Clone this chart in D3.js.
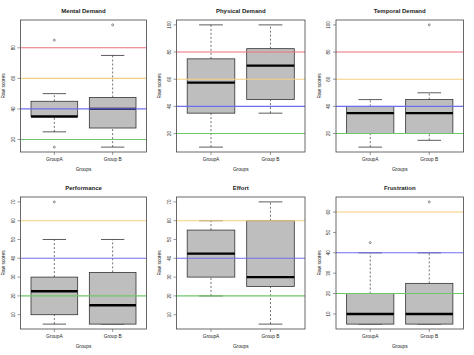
<!DOCTYPE html>
<html><head><meta charset="utf-8">
<script src="https://cdn.jsdelivr.net/npm/d3@7/dist/d3.min.js"></script>
<style>body{margin:0;background:#fff}svg{display:block}text{font-family:"Liberation Sans",Arial,sans-serif;fill:#222}</style>
</head><body>
<svg id="c" width="474" height="355"></svg>
<script>
// Data: five-number summaries [lower whisker, Q1, median, Q3, upper whisker]
const titles = ["Mental Demand","Physical Demand","Temporal Demand","Performance","Effort","Frustration"];
const groups = ["GroupA","Group B"];
const groupA = [[25,35,35,45,50],[10,35,57.5,75,100],[10,20,35,40,45],[5,10,22.5,30,50],[20,30,42.5,55,60],[5,5,10,20,40]];
const groupB = [[15,27.5,40,47.5,75],[35,45,70,82.5,100],[15,20,35,45,50],[5,5,15,32.5,50],[5,25,30,60,70],[5,5,10,25,40]];
const outA = [[85,15],[],[],[70],[],[45]];
const outB = [[95],[],[100],[],[],[65]];
const refLines = [[80,60,40,20],[80,60,40,20],[80,60,40,20],[60,40,20],[60,40,20],[60,40,20]];
const yTicks = [[20,40,60,80],[20,40,60,80,100],[20,40,60,80,100],[10,20,30,40,50,60,70],[10,20,30,40,50,60,70],[10,20,30,40,50,60]];
const refColors = {80:"#e8707c",60:"#f5d07e",40:"#6e6ef0",20:"#6cc86c"};

const svg = d3.select("#c");
const lefts=[20.5,176.5,336], rights=[146.5,305,463.5], tops=[20,197], bottoms=[152,329];

titles.forEach((t,i)=>{
  const col=i%3,row=Math.floor(i/3);
  const L=lefts[col],R=rights[col],T=tops[row],B=bottoms[row];
  const all=[...groupA[i],...groupB[i],...outA[i],...outB[i]];
  const mn=d3.min(all),mx=d3.max(all),ext=(mx-mn)*0.04;
  const y=d3.scaleLinear().domain([mn-ext,mx+ext]).range([B,T]);
  const x=d3.scaleLinear().domain([0.42,2.58]).range([L,R]);
  const g=svg.append("g");
  const cid="clip"+i;
  g.append("clipPath").attr("id",cid).append("rect").attr("x",L).attr("y",T).attr("width",R-L).attr("height",B-T);

  [groupA[i],groupB[i]].forEach((s,k)=>{
    const cx=x(k+1),hw=(x(1.4)-x(1)),cw=(x(1.2)-x(1));
    g.append("line").attr("x1",cx).attr("x2",cx).attr("y1",y(s[0])).attr("y2",y(s[1])).attr("stroke","#333").attr("stroke-width",0.7).attr("stroke-dasharray","2,2");
    g.append("line").attr("x1",cx).attr("x2",cx).attr("y1",y(s[3])).attr("y2",y(s[4])).attr("stroke","#333").attr("stroke-width",0.7).attr("stroke-dasharray","2,2");
    [s[0],s[4]].forEach(v=>g.append("line").attr("x1",cx-cw).attr("x2",cx+cw).attr("y1",y(v)).attr("y2",y(v)).attr("stroke","#333").attr("stroke-width",0.8));
    g.append("rect").attr("x",cx-hw).attr("width",2*hw).attr("y",y(s[3])).attr("height",Math.max(0.5,y(s[1])-y(s[3]))).attr("fill","#bebebe").attr("stroke","#333").attr("stroke-width",0.8);
    g.append("line").attr("x1",cx-hw).attr("x2",cx+hw).attr("y1",y(s[2])).attr("y2",y(s[2])).attr("stroke","#000").attr("stroke-width",2.4);
    const outs = k===0?outA[i]:outB[i];
    outs.forEach(v=>g.append("circle").attr("cx",cx).attr("cy",y(v)).attr("r",1).attr("fill","none").attr("stroke","#444").attr("stroke-width",0.6));
  });
  const rl=g.append("g").attr("clip-path",`url(#${cid})`);
  refLines[i].forEach(v=>rl.append("line").attr("x1",L).attr("x2",R).attr("y1",y(v)).attr("y2",y(v)).attr("stroke",refColors[v]).attr("stroke-width",1.1));
  g.append("rect").attr("x",L).attr("y",T).attr("width",R-L).attr("height",B-T).attr("fill","none").attr("stroke","#444").attr("stroke-width",0.8);
  const ya=g.append("g");
  yTicks[i].forEach(v=>{
    ya.append("line").attr("x1",L-3).attr("x2",L).attr("y1",y(v)).attr("y2",y(v)).attr("stroke","#555").attr("stroke-width",0.6);
    ya.append("text").attr("transform",`translate(${L-6},${y(v)}) rotate(-90)`).attr("text-anchor","middle").attr("font-size",4.5).text(v);
  });
  groups.forEach((gn,k)=>{
    const cx=x(k+1);
    g.append("line").attr("x1",cx).attr("x2",cx).attr("y1",B).attr("y2",B+3).attr("stroke","#555").attr("stroke-width",0.6);
    g.append("text").attr("x",cx).attr("y",B+9).attr("text-anchor","middle").attr("font-size",4.8).text(gn);
  });
  g.append("text").attr("x",(L+R)/2).attr("y",B+19).attr("text-anchor","middle").attr("font-size",4.8).text("Groups");
  g.append("text").attr("transform",`translate(${L-15.5},${(T+B)/2}) rotate(-90)`).attr("text-anchor","middle").attr("font-size",4.8).text("Raw scores");
  g.append("text").attr("x",(L+R)/2).attr("y",T-7).attr("text-anchor","middle").attr("font-size",6).attr("font-weight","bold").text(t);
});
</script>
</body></html>
